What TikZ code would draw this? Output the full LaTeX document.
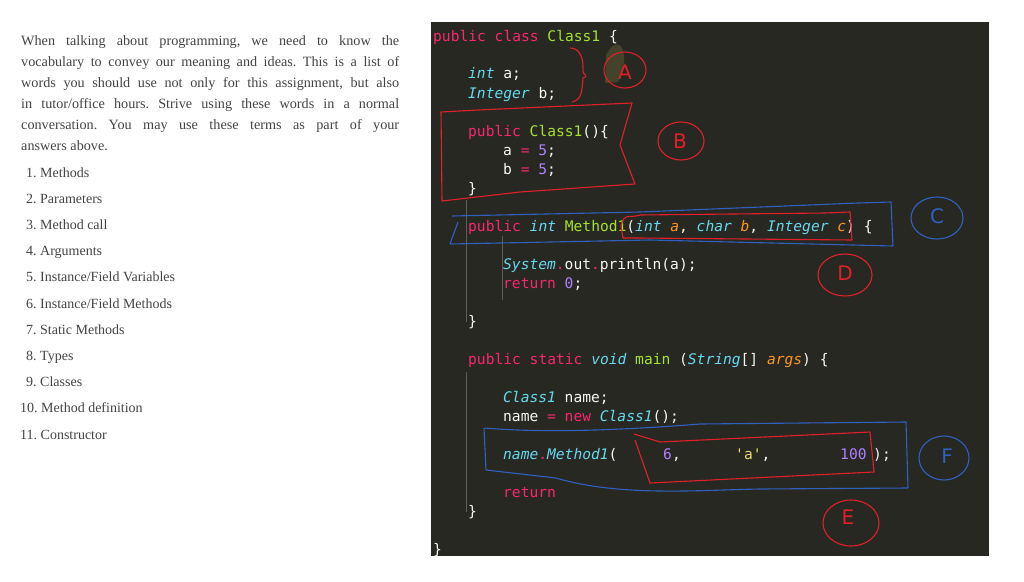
\documentclass[tikz,border=0pt]{standalone}
\usepackage{fontspec}
\setmainfont{Liberation Serif}
\setmonofont{DejaVu Sans Mono}
\newfontfamily\handf{DejaVu Sans}
\definecolor{bgc}{HTML}{272822}
\definecolor{pk}{HTML}{F92672}
\definecolor{gr}{HTML}{A6E22E}
\definecolor{cy}{HTML}{66D9EF}
\definecolor{org}{HTML}{FD971F}
\definecolor{pu}{HTML}{AE81FF}
\definecolor{ye}{HTML}{E6DB74}
\definecolor{wt}{HTML}{F8F8F2}
\definecolor{txt}{HTML}{444444}
\definecolor{mred}{HTML}{E0202A}
\definecolor{mblue}{HTML}{3060C0}
\begin{document}
\frenchspacing
\begin{tikzpicture}[x=1pt,y=-1pt,
  code/.style={anchor=base west,inner sep=0pt,font=\ttfamily\fontsize{14.6}{16}\selectfont,text=wt},
  lst/.style={anchor=base west,inner sep=0pt,font=\fontsize{14}{16}\selectfont,text=txt},
  redm/.style={draw=mred,line width=1.1pt,line join=round},
  bluem/.style={draw=mblue,line width=1.1pt,line join=round},
  hand/.style={font=\handf\fontsize{20}{20}\selectfont,inner sep=0pt}]
\useasboundingbox (0,0) rectangle (1024,581);
\fill[white] (0,0) rectangle (1024,581);
\fill[bgc] (431,22) rectangle (989,556);
\draw[white!25!bgc,line width=0.5pt] (466,200) -- (466,322) (502,236) -- (502,300) (466,372) -- (466,512);
% left text
\node[anchor=north west,inner sep=0pt,text width=378pt,align=justify,text=txt,
  font=\fontsize{14.2}{21}\selectfont] (para) at (21,35)
{When talking about programming, we need to know the\linebreak vocabulary to convey our meaning and ideas. This is a list of\linebreak words you should use not only for this assignment, but also\linebreak in tutor/office hours. Strive using these words in a normal\linebreak conversation. You may use these terms as part of your\linebreak answers above.};
\foreach \t [count=\i] in {Methods,Parameters,Method call,Arguments,Instance/Field Variables,Instance/Field Methods,Static Methods,Types,Classes,Method definition,Constructor}{
  \pgfmathsetmacro\yy{177+26.2*(\i-1)}
  \ifnum\i<10 \node[lst] (l\i) at (26,\yy) {\i. \t};\else\node[lst] (l\i) at (20,\yy) {\i. \t};\fi
}
% code
\node[code] (c1) at (433,41) {\textcolor{pk}{public class} \textcolor{gr}{Class1} \{};
\node[code] (c2) at (468,78) {\textcolor{cy}{\itshape int} a;};
\node[code] (c3) at (468,98) {\textcolor{cy}{\itshape Integer} b;};
\node[code] (c4) at (468,136) {\textcolor{pk}{public} \textcolor{gr}{Class1}()\{};
\node[code] (c5) at (503,155) {a \textcolor{pk}{=} \textcolor{pu}{5};};
\node[code] (c6) at (503,174) {b \textcolor{pk}{=} \textcolor{pu}{5};};
\node[code] (c7) at (468,193) {\}};
\node[code] (c8) at (468,231) {\textcolor{pk}{public} \textcolor{cy}{\itshape int} \textcolor{gr}{Method1}(\textcolor{cy}{\itshape int} \textcolor{org}{\itshape a}, \textcolor{cy}{\itshape char} \textcolor{org}{\itshape b}, \textcolor{cy}{\itshape Integer} \textcolor{org}{\itshape c}) \{};
\node[code] (c9) at (503,269) {\textcolor{cy}{\itshape System}\textcolor{pk}{.}out\textcolor{pk}{.}println(a);};
\node[code] (c10) at (503,288) {\textcolor{pk}{return} \textcolor{pu}{0};};
\node[code] (c11) at (468,326) {\}};
\node[code] (c12) at (468,364) {\textcolor{pk}{public static} \textcolor{cy}{\itshape void} \textcolor{gr}{main} (\textcolor{cy}{\itshape String}[] \textcolor{org}{\itshape args}) \{};
\node[code] (c13) at (503,402) {\textcolor{cy}{\itshape Class1} name;};
\node[code] (c14) at (503,421) {name \textcolor{pk}{=} \textcolor{pk}{new} \textcolor{cy}{\itshape Class1}();};
\node[code] (c15) at (503,459) {\textcolor{cy}{\itshape name}\textcolor{pk}{.}\textcolor{cy}{\itshape Method1}(};
\node[code] (c16) at (663,459) {\textcolor{pu}{6},};
\node[code] (c17) at (735,459) {\textcolor{ye}{'a'},};
\node[code] (c18) at (840,459) {\textcolor{pu}{100}};
\node[code] (c19) at (873,459) {);};
\node[code] (c20) at (503,497) {\textcolor{pk}{return}};
\node[code] (c21) at (468,516) {\}};
\node[code] (c22) at (433,554) {\}};
% marks
\fill[olive!40!black,opacity=0.8] (606,55) .. controls (615,38) and (625,42) .. (624,62) -- (618,82) -- (605,83) -- cycle;
\draw[redm] (570,48) .. controls (585,48) and (583,70) .. (583,72) .. controls (583,75) and (590,75) .. (583,78) .. controls (582,90) and (582,100) .. (572,102);
\draw[redm] (625,70) circle[x radius=21pt,y radius=18pt];
\node[hand,text=mred] (A) at (625,72) {A};
\draw[redm] (441,112) -- (478,110) -- (632,103) -- (620,145) -- (635,184) -- (520,192) -- (442,201) -- cycle;
\draw[redm] (681,141) circle[x radius=23pt,y radius=19pt];
\node[hand,text=mred] (B) at (680,141) {B};
\draw[bluem] (452,216) -- (640,212) -- (858,203) -- (891,202) -- (893,246) -- (650,240) -- (450,244) -- (458,222);
\draw[redm] (621,226) .. controls (625,212) and (626,219) .. (640,215) -- (825,213) -- (850,212) -- (852,240) -- (640,238) -- (623,238) -- cycle;
\draw[bluem] (937,218) circle[x radius=26pt,y radius=21pt];
\node[hand,text=mblue] (C) at (937,216) {C};
\draw[redm] (845,275) circle[x radius=27pt,y radius=21pt];
\node[hand,text=mred] (D) at (845,273) {D};
\draw[bluem] (484,428) -- (486,470) -- (556,478) .. controls (620,497) and (700,490) .. (760,489) -- (908,488) -- (906,422) -- (700,424) .. controls (600,432) and (530,432) .. (485,428);
\draw[redm] (634,434) -- (660,442) -- (870,432) -- (874,472) -- (650,483) -- (635,440);
\draw[bluem] (944,458) circle[x radius=25pt,y radius=22pt];
\node[hand,text=mblue] (F) at (947,456) {F};
\draw[redm] (851,523) circle[x radius=28pt,y radius=23pt];
\node[hand,text=mred] (E) at (848,517) {E};
\end{tikzpicture}
\end{document}
